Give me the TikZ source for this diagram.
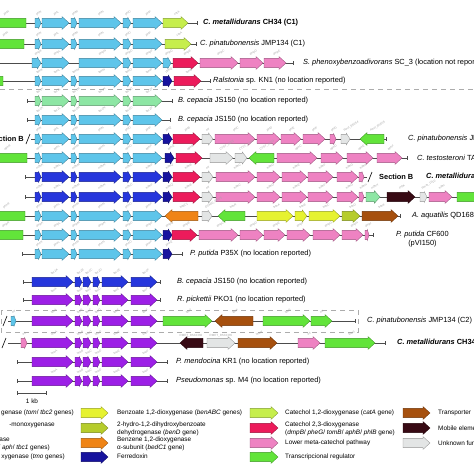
\documentclass[tikz,border=0pt]{standalone}
\usepackage{fontspec}
\setmainfont{Liberation Sans}
\usetikzlibrary{arrows.meta}

\definecolor{cdmp}{HTML}{5EC5EA}
\definecolor{cmint}{HTML}{8DE6A4}
\definecolor{ctmo}{HTML}{2636DC}
\definecolor{cfdx}{HTML}{17139E}
\definecolor{cpurple}{HTML}{9C1FE6}
\definecolor{cctwo}{HTML}{EC1B5B}
\definecolor{cmeta}{HTML}{EE82C2}
\definecolor{cunk}{HTML}{E3E5E5}
\definecolor{creg}{HTML}{62E43A}
\definecolor{ccatA}{HTML}{C6EE4C}
\definecolor{cben}{HTML}{E6F230}
\definecolor{cbenD}{HTML}{B6CC2C}
\definecolor{cbed}{HTML}{EF8416}
\definecolor{ctrans}{HTML}{A6500E}
\definecolor{cmob}{HTML}{380A14}

% one gene: x start, x end (head side), row, colour, tag
\newcommand{\gene}[5]{%
  \pgfmathsetmacro{\gl}{abs((#2)-(#1))}%
  \pgfmathsetmacro{\gd}{sign((#2)-(#1))}%
  \pgfmathsetmacro{\gh}{min(7,0.4*\gl)}%
  \pgfmathsetmacro{\gw}{4.6+min(1.8,0.12*\gl)}%
  \pgfmathsetmacro{\gk}{(#2)-(\gd)*(\gh)}%
  \filldraw[gene, fill=#4, draw=#4!65!black]
    (#1,#3-4.6) -- (\gk,#3-4.6) -- (\gk,#3-\gw) -- (#2,#3)
    -- (\gk,#3+\gw) -- (\gk,#3+4.6) -- (#1,#3+4.6) -- cycle;
  \node[genetag] at ({((#1)+(#2))/2-1},#3-7) {#5};}

% six-gene hydroxylase cluster (small/big pattern)
\newcommand{\dmpop}[3]{%
  \gene{35}{41}{#1}{#2}{#3K}\gene{42}{69}{#1}{#2}{#3L}\gene{71}{77}{#1}{#2}{#3M}%
  \gene{79}{121}{#1}{#2}{#3N}\gene{123}{131}{#1}{#2}{#3O}\gene{133}{162}{#1}{#2}{#3P}}

% six-gene monooxygenase cluster (big/small/small/small/big/big)
\newcommand{\tmoop}[3]{%
  \gene{32}{73}{#1}{#2}{#3A}\gene{75}{82}{#1}{#2}{#3B}\gene{83}{91}{#1}{#2}{#3C}%
  \gene{93}{100}{#1}{#2}{#3D}\gene{102}{128}{#1}{#2}{#3E}\gene{131}{157}{#1}{#2}{#3F}}

\begin{document}
\begin{tikzpicture}[
    x=1pt, y=-1pt,
    % styles
    gene/.style={line width=0.35pt, line join=miter},
    genetag/.style={anchor=south west, rotate=30, inner sep=0pt, text=gray!70, font=\fontsize{3}{3.4}\selectfont},
    flattag/.style={anchor=south, inner sep=0pt, text=gray!70, font=\fontsize{3}{3.4}\selectfont},
    backbone/.style={draw=gray!60!black, line width=0.5pt},
    ends/.style={{Bar[width=3.5pt]}-{Bar[width=3.5pt]}},
    rend/.style={-{Bar[width=3.5pt]}},
    lend/.style={{Bar[width=3.5pt]}-},
    spec/.style={anchor=west, inner sep=0pt, font=\fontsize{7.4}{8.6}\selectfont},
    legtext/.style={anchor=west, inner sep=0pt, align=left, font=\fontsize{6.4}{7.6}\selectfont},
    sep/.style={draw=gray!65, line width=0.7pt, dash pattern=on 5pt off 4pt},
    cut/.style={line width=0.6pt},
]
\useasboundingbox (0,0) rectangle (474,474);
\clip (0,0) rectangle (474,474);

% -------------------------
% Upper block
% -------------------------
\draw[backbone, rend] (20,23) -- (197,23);
\gene{26}{-15}{23}{creg}{phlR}
\dmpop{23}{cdmp}{phl}
\gene{163}{188}{23}{ccatA}{catA}
\node[spec] (sp1) at (203,23) {\textbf{\textit{C. metallidurans} CH34 (C1)}};

\draw[backbone, rend] (20,44) -- (196,44);
\gene{24}{-15}{44}{creg}{phlR}
\dmpop{44}{cdmp}{phl}
\gene{165}{191}{44}{ccatA}{catA}
\node[spec] (sp2) at (200,44) {\textit{C. pinatubonensis} JMP134 (C1)};

\draw[backbone, rend] (-5,63) -- (293,63);
\gene{32}{41}{63}{cdmp}{dmpK} \gene{42}{69}{63}{cdmp}{dmpL} \gene{79}{122}{63}{cdmp}{dmpN}
\gene{123}{131}{63}{cdmp}{dmpO} \gene{133}{162}{63}{cdmp}{dmpP} \gene{163}{171}{63}{cdmp}{dmpQ}
\gene{173}{198}{63}{cctwo}{dmpB} \gene{200}{238}{63}{cmeta}{dmpC} \gene{240}{263}{63}{cmeta}{dmpD}
\gene{264}{286}{63}{cmeta}{dmpE}
\node[spec] (sp3) at (303,63) {\textit{S. phenoxybenzoadivorans} SC\_3 (location not reported)};

\draw[backbone, rend] (3,81) -- (210,81);
\gene{3}{-20}{81}{creg}{}
\dmpop{81}{cdmp}{tbm}
\gene{163}{172}{81}{cfdx}{tbmQ} \gene{174}{201}{81}{cctwo}{tbmB}
\node[spec] (sp4) at (213,81) {\textit{Ralstonia} sp. KN1 (no location reported)};

\draw[sep] (0,89) -- (474,89);

% -------------------------
% Middle block
% -------------------------
\draw[backbone, ends] (27,101) -- (172,101);
\dmpop{101}{cmint}{tbc1}
\node[spec] (sp5) at (178,101) {\textit{B. cepacia} JS150 (no location reported)};

\draw[backbone, ends] (27,120) -- (170,120);
\dmpop{120}{cdmp}{tbc2}
\node[spec] (sp6) at (178,120) {\textit{B. cepacia} JS150 (no location reported)};

\node[spec, anchor=east, font=\fontsize{7.4}{8.6}\selectfont\bfseries] (secb1) at (24,139) {Section B};
\draw[cut] (26,144) -- (30,134);
\draw[backbone, rend] (31,139) -- (386,139);
\dmpop{139}{cdmp}{phl}
\gene{163}{172}{139}{cfdx}{phlQ} \gene{173}{200}{139}{cctwo}{phlB} \gene{202}{213}{139}{cunk}{orf}
\gene{215}{255}{139}{cmeta}{phlC} \gene{257}{280}{139}{cmeta}{phlD} \gene{281}{301}{139}{cmeta}{phlE}
\gene{303}{325}{139}{cmeta}{phlF} \gene{330}{336}{139}{cmeta}{phlG} \gene{341}{350}{139}{cunk}{Reut\_B5654}
\gene{384}{360}{139}{creg}{Reut\_B5655}
\node[spec] (sp7) at (408,139) {\textit{C. pinatubonensis} JMP134};

\draw[backbone, rend] (27,158) -- (407,158);
\gene{27}{-15}{158}{creg}{aphR}
\dmpop{158}{cdmp}{aph}
\gene{165}{174}{158}{cfdx}{aphQ} \gene{176}{202}{158}{cctwo}{aphB} \gene{210}{233}{158}{cunk}{CTST\_4201}
\gene{235}{247}{158}{cunk}{CTST\_4202} \gene{274}{249}{158}{creg}{CTST\_4203}
\gene{277}{317}{158}{cmeta}{aphC} \gene{321}{343}{158}{cmeta}{aphD} \gene{347}{373}{158}{cmeta}{aphE}
\gene{377}{402}{158}{cmeta}{aphF}
\node[spec] (sp8) at (417,158) {\textit{C. testosteroni} TA441};

\draw[backbone, lend] (25,177) -- (367,177);
\dmpop{177}{ctmo}{mph}
\gene{163}{172}{177}{cfdx}{mphQ} \gene{173}{200}{177}{cctwo}{mphB} \gene{202}{213}{177}{cunk}{orf}
\gene{216}{255}{177}{cmeta}{mphC} \gene{257}{280}{177}{cmeta}{mphD} \gene{282}{307}{177}{cmeta}{mphE}
\gene{308}{333}{177}{cmeta}{mphF} \gene{337}{358}{177}{cmeta}{mphG} \gene{359}{364}{177}{cmeta}{mphH}
\draw[cut] (368,182) -- (372,172);
\node[spec, font=\fontsize{7.4}{8.6}\selectfont\bfseries] (secb2) at (379,177) {Section B};
\node[spec] (sp9) at (426,177) {\textbf{\textit{C. metallidurans} CH34 (C2)}};

\draw[backbone, lend] (25,197) -- (480,197);
\dmpop{197}{ctmo}{mph}
\gene{163}{172}{197}{cfdx}{mphQ} \gene{173}{200}{197}{cctwo}{mphB} \gene{202}{213}{197}{cunk}{orf}
\gene{216}{255}{197}{cmeta}{mphC} \gene{257}{280}{197}{cmeta}{mphD} \gene{282}{307}{197}{cmeta}{mphE}
\gene{308}{333}{197}{cmeta}{mphF} \gene{337}{358}{197}{cmeta}{mphG} \gene{359}{364}{197}{cmeta}{mphH}
\gene{366}{380}{197}{cmint}{mphX} \gene{387}{415}{197}{cmob}{tnpA} \gene{420}{427}{197}{cunk}{Rmet\_1610}
\gene{429}{452}{197}{cmeta}{mphI} \gene{457}{495}{197}{creg}{}

\draw[backbone, rend] (25,216) -- (400,216);
\gene{25}{-15}{216}{creg}{phhR}
\dmpop{216}{cdmp}{phh}
\gene{198}{165}{216}{cbed}{bedC1} \gene{202}{212}{216}{cunk}{D3A80\_09775} \gene{245}{218}{216}{creg}{benR}
\gene{257}{293}{216}{cben}{benA} \gene{295}{307}{216}{cben}{benB} \gene{309}{340}{216}{cben}{benC}
\gene{342}{360}{216}{cbenD}{benD} \gene{362}{398}{216}{ctrans}{benK}
\node[spec] (sp11) at (412,216) {\textit{A. aquatilis} QD168};

\draw[backbone, rend] (23,235) -- (373,235);
\gene{23}{-15}{235}{creg}{dmpR}
\dmpop{235}{cdmp}{dmp}
\gene{163}{172}{235}{cfdx}{dmpQ} \gene{172}{197}{235}{cctwo}{dmpB} \gene{199}{238}{235}{cmeta}{dmpC}
\gene{240}{263}{235}{cmeta}{dmpD} \gene{264}{285}{235}{cmeta}{dmpE} \gene{287}{310}{235}{cmeta}{dmpF}
\gene{313}{340}{235}{cmeta}{dmpG} \gene{342}{363}{235}{cmeta}{dmpH} \gene{365}{369}{235}{cmeta}{dmpI}
\node[spec, align=center] (sp12) at (396,239) {\textit{P. putida} CF600\\(pVI150)};

\draw[backbone, ends] (22,254) -- (182,254);
\dmpop{254}{cdmp}{phe}
\gene{163}{172}{254}{cfdx}{pheQ}
\node[spec] (sp13) at (190,254) {\textit{P. putida} P35X (no location reported)};

% -------------------------
% Lower block
% -------------------------
\draw[backbone, ends] (23,282) -- (160,282);
\tmoop{282}{ctmo}{tbc2}
\node[spec] (sp14) at (177,282) {\textit{B. cepacia} JS150 (no location reported)};

\draw[backbone, ends] (23,300) -- (160,300);
\tmoop{300}{cpurple}{tbu}
\node[spec] (sp15) at (177,300) {\textit{R. pickettii} PKO1 (no location reported)};

\draw[sep] (1,310) rectangle (358,332);
\draw[cut] (3,326) -- (7,316);
\draw[backbone, rend] (8,321) -- (355,321);
\gene{11}{16}{321}{cdmp}{orf}
\tmoop{321}{cpurple}{tbu}
\gene{163}{212}{321}{creg}{tbuT} \gene{253}{215}{321}{ctrans}{tbuX} \gene{263}{310}{321}{creg}{tbuS}
\gene{311}{332}{321}{creg}{orf}
\node[spec] (sp16) at (367,321) {\textit{C. pinatubonensis} JMP134 (C2)};

\draw[cut] (2,348) -- (6,338);
\draw[backbone, rend] (8,343) -- (385,343);
\gene{21}{27}{343}{cmeta}{orf}
\tmoop{343}{cpurple}{tmo}
\gene{203}{180}{343}{cmob}{} \gene{207}{235}{343}{cunk}{}
\node[flattag] (rs1) at (191,337) {RMET\_RS32360};
\node[flattag] (rs2) at (221,337) {RMET\_RS32365};
\gene{238}{277}{343}{ctrans}{tmoX} \gene{298}{320}{343}{cmeta}{orf} \gene{325}{375}{343}{creg}{tmoS}
\node[spec] (sp17) at (397,343) {\textbf{\textit{C. metallidurans} CH34 (C2)}};

\draw[backbone, ends] (17,362) -- (167,362);
\tmoop{362}{cpurple}{tmo}
\node[spec] (sp18) at (176,362) {\textit{P. mendocina} KR1 (no location reported)};

\draw[backbone, ends] (17,381) -- (167,381);
\tmoop{381}{cpurple}{tmo}
\node[spec] (sp19) at (176,381) {\textit{Pseudomonas} sp. M4 (no location reported)};

% scale bar
\draw[backbone, ends] (17,393) -- (46,393);
\node[legtext, anchor=center] (kb) at (32,401) {1 kb};

% -------------------------
% Legend
% -------------------------
\node[legtext, anchor=east] (lg1) at (74,413) {genase (\textit{tom}/ \textit{tbc2} genes)};
\node[legtext, anchor=east] (lg2) at (55,425) {-monoxygenase};
\node[legtext, anchor=east] (lg3) at (10,440) {ase};
\node[legtext, anchor=east] (lg3b) at (50,448) {/ \textit{aph}/ \textit{tbc1} genes)};
\node[legtext, anchor=east] (lg4) at (65,457) {xygenase (\textit{tmo} genes)};

\gene{81}{108}{413}{cben}{} \gene{81}{108}{428}{cbenD}{}
\gene{81}{108}{443}{cbed}{} \gene{81}{108}{457}{cfdx}{}
\node[legtext] (lg5) at (117,413) {Benzoate 1,2-dioxygenase (\textit{benABC} genes)};
\node[legtext] (lg6) at (117,429) {2-hydro-1,2-dihydroxybenzoate\\dehydrogenase (\textit{benD} gene)};
\node[legtext] (lg7) at (117,444) {Benzene 1,2-dioxygenase\\α-subunit (\textit{bedC1} gene)};
\node[legtext] (lg8) at (117,456) {Ferredoxin};

\gene{250}{278}{413}{ccatA}{} \gene{250}{278}{428}{cctwo}{}
\gene{250}{278}{443}{cmeta}{} \gene{250}{278}{457}{creg}{}
\node[legtext] (lg9) at (285,413) {Catechol 1,2-dioxygenase (\textit{catA} gene)};
\node[legtext] (lg10) at (285,429) {Catechol 2,3-dioxygenase\\(\textit{dmpB}/ \textit{pheG}/ \textit{tomB}/ \textit{aphB}/ \textit{phlB} gene)};
\node[legtext] (lg11) at (285,443) {Lower meta-catechol pathway};
\node[legtext] (lg12) at (285,457) {Transcripcional regulator};

\gene{403}{430}{413}{ctrans}{} \gene{403}{430}{428}{cmob}{} \gene{403}{430}{443}{cunk}{}
\node[legtext] (lg13) at (438,413) {Transporter};
\node[legtext] (lg14) at (438,428) {Mobile element};
\node[legtext] (lg15) at (438,443) {Unknown function};

\end{tikzpicture}
\end{document}
